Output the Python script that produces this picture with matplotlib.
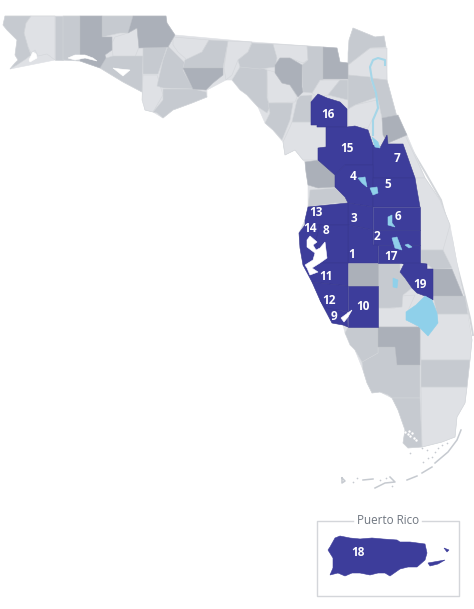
import matplotlib
matplotlib.use('Agg')
import matplotlib.pyplot as plt

# county outlines in image pixels (x, y)
LAND = [(5,16),(166,16),(167,23),(175,35),(252,42),(323,47),(337,48),(340,62),(348,63),(349,40),(353,28),(375,37),(384,36),(386,47),(387,80),(397,117),(407,135),(425,178),(440,200),(450,225),(463,296),(472,340),(470,360),(467,387),(465,403),(457,417),(455,437),(442,442),(422,447),(408,448),(403,443),(405,430),(398,410),(392,398),(380,392),(372,393),(367,383),(363,370),(355,350),(345,333),(343,325),(332,323),(323,307),(310,277),(303,265),(300,248),(299,233),(305,220),(308,207),(308,185),(306,172),(305,162),(303,160),(295,150),(285,155),(283,142),(273,130),(265,123),(258,107),(247,95),(232,80),(226,80),(207,90),(207,97),(192,103),(173,110),(163,118),(153,112),(145,110),(142,92),(123,82),(100,68),(80,61),(55,60),(10,69),(15,63),(18,60),(15,55),(17,40),(7,30),(3,25)]
DARK_COUNTIES = [
    [(133,16),(166,16),(167,23),(175,35),(168,47),(139,48),(137,28),(128,33)],
    [(80,16),(102,16),(102,37),(112,37),(112,50),(105,55),(106,58),(100,68),(80,61)],
    [(183,68),(223,68),(223,75),(213,83),(206,90),(193,89)],
    [(275,65),(280,58),(290,58),(302,65),(302,87),(303,92),(298,97),(290,85),(282,83),(275,73)],
    [(323,47),(337,48),(340,62),(348,63),(348,79),(323,79)],
    [(382,118),(398,115),(407,135),(388,143),(383,135)],
    [(305,162),(320,160),(335,175),(337,183),(335,187),(318,188),(308,185),(306,172)],
    [(433,269),(452,269),(463,296),(433,296)],
    [(378,327),(420,327),(420,365),(397,365),(395,347),(378,347)],
    [(348,263),(378,263),(378,286),(348,286)],
]
MID_COUNTIES = [
    [(5,16),(31,16),(26,23),(24,33),(28,47),(31,55),(26,59),(17,65),(10,69),(15,63),(18,60),(15,55),(17,40),(7,30),(3,25)],
    [(55,16),(63,16),(63,60),(55,60)],
    [(63,16),(80,16),(80,61),(63,60)],
    [(106,58),(113,56),(143,56),(142,92),(123,82),(100,68)],
    [(102,16),(133,16),(128,33),(120,33),(102,37)],
    [(143,48),(167,47),(158,74),(143,74)],
    [(168,46),(185,63),(183,70),(193,89),(163,88),(157,86),(163,60)],
    [(163,89),(193,89),(206,92),(207,97),(192,103),(173,110),(163,118),(157,113),(153,112),(163,100)],
    [(209,40),(228,41),(223,68),(183,68),(185,60),(202,52)],
    [(240,67),(260,67),(267,70),(267,98),(270,107),(267,113),(258,107),(247,95),(240,90),(232,80)],
    [(252,43),(273,44),(277,58),(275,67),(260,69),(240,67),(238,60),(248,52)],
    [(307,46),(323,47),(323,80),(320,80),(312,93),(303,92),(302,65),(308,60)],
    [(340,80),(348,80),(348,100),(328,95)],
    [(348,75),(370,77),(377,97),(355,105),(348,109),(348,100)],
    [(353,28),(375,37),(384,36),(386,47),(370,48),(348,65),(348,53),(349,40)],
    [(370,78),(387,80),(397,117),(382,118),(378,100)],
    [(268,103),(293,103),(290,120),(282,140),(273,130),(265,123),(270,113)],
    [(300,96),(312,95),(311,122),(292,122),(297,100)],
    [(310,190),(335,188),(345,197),(348,203),(335,203),(308,207)],
    [(362,362),(378,353),(378,347),(395,347),(397,365),(420,365),(420,398),(392,398),(388,395),(380,392),(372,393),(367,383),(363,370)],
    [(392,398),(420,398),(422,447),(408,448),(403,443),(405,430),(398,410)],
    [(421,360),(470,360),(467,387),(421,387)],
    [(433,296),(465,296),(468,314),(437,314)],
    [(421,250),(443,250),(452,268),(433,269),(427,264),(421,263)],
    [(378,263),(400,263),(400,272),(405,278),(412,288),(403,295),(402,307),(390,308),(378,308)],
    [(348,327),(378,327),(378,353),(362,362),(355,350),(350,345),(345,333)],
]
LIGHT_COUNTIES = [
    [(31,16),(55,16),(55,60),(47,54),(38,56),(35,50),(31,53),(28,47),(24,33),(26,23)],
    [(112,43),(115,37),(128,33),(137,28),(139,47),(135,57),(113,57)],
    [(143,75),(157,75),(163,95),(153,112),(145,110),(142,100)],
    [(173,37),(209,40),(202,52),(187,60),(178,52),(173,45)],
    [(228,41),(252,42),(248,52),(238,60),(232,75),(226,80),(224,68)],
    [(273,44),(307,46),(308,60),(303,63),(290,58),(280,58),(276,62)],
    [(267,70),(275,72),(282,83),(290,85),(297,97),(295,102),(268,103)],
    [(320,80),(340,80),(328,95),(317,97),(312,93)],
    [(370,48),(387,48),(387,80),(348,75),(348,65)],
    [(348,109),(355,105),(377,100),(378,110),(372,120),(368,128),(355,127),(348,127)],
    [(292,122),(311,122),(317,127),(326,127),(326,147),(318,148),(318,160),(303,160),(295,150),(285,155),(283,142),(290,127)],
    [(388,143),(405,135),(425,178),(415,178),(403,145)],
    [(415,178),(425,178),(440,200),(450,225),(443,250),(421,250),(420,207),(417,190)],
    [(378,308),(395,308),(402,296),(415,295),(407,313),(417,327),(378,327)],
    [(420,327),(437,323),(437,314),(468,314),(472,340),(470,360),(421,360)],
    [(421,387),(467,387),(465,403),(457,417),(455,437),(442,442),(422,447)],
]
BLUE_COUNTIES = [
    [(311,102),(318,94),(327,98),(340,102),(347,109),(347,127),(317,127),(317,125),(311,125)],
    [(318,148),(326,147),(326,127),(347,127),(355,126),(368,130),(373,145),(373,165),(345,165),(335,175),(318,160)],
    [(373,145),(380,148),(387,135),(388,144),(403,144),(415,178),(373,178)],
    [(335,175),(345,165),(373,165),(373,207),(348,203),(345,197),(335,187)],
    [(373,178),(415,178),(417,190),(420,207),(373,207)],
    [(373,207),(420,207),(420,230),(373,230)],
    [(373,230),(420,230),(420,245),(373,245)],
    [(378,245),(420,245),(420,263),(378,263)],
    [(348,203),(373,207),(373,230),(348,225)],
    [(348,225),(373,230),(373,245),(378,245),(378,263),(348,263)],
    [(308,207),(348,203),(348,225),(305,225),(305,220)],
    [(305,225),(320,225),(320,233),(316,268),(303,265),(300,248),(299,233)],
    [(320,225),(348,225),(348,263),(320,263),(316,240)],
    [(303,265),(320,263),(348,263),(348,286),(312,282)],
    [(312,282),(348,286),(348,312),(338,310),(327,312),(320,300)],
    [(320,300),(327,308),(347,312),(348,327),(343,325),(332,323)],
    [(348,286),(378,286),(378,327),(348,327)],
    [(402,263),(420,263),(427,264),(427,269),(433,269),(433,300),(425,296),(417,293),(412,288),(405,278),(400,272),(404,264)],
]
WHITE_WATER = [
    [(29,60),(33,52),(36,54),(37,58),(30,62)],
    [(68,58),(75,55),(85,55),(93,58),(97,61),(85,58),(75,60)],
    [(113,68),(120,69),(130,70),(123,76),(118,72)],
    [(307,240),(310,236),(317,242),(313,245),(316,250),(320,248),(325,242),(327,258),(320,263),(312,268),(318,272),(310,275),(307,268),(305,265),(313,260),(315,253),(307,247)],
    [(352,310),(348,317),(344,322),(341,318),(345,315)],
]
LAKES = [
    [(425,296),(432,300),(437,313),(438,323),(428,336),(418,326),(406,320),(406,312),(416,305)],
    [(392,238),(397,237),(402,250),(395,248)],
    [(405,245),(408,244),(412,247),(409,248)],
    [(388,217),(392,215),(392,223),(395,227),(388,225)],
    [(393,278),(398,280),(397,288),(393,287)],
    [(358,178),(365,177),(367,187),(362,183)],
    [(370,188),(377,187),(378,193),(373,195)],
    [(372,137),(378,142),(380,148),(375,147)],
]
RIVER = [(373,135),(373,120),(378,108),(376,93),(372,80),(370,67),(373,60),(378,58),(385,60),(385,65)]
BARRIER = [(403,135),(425,172),(441,200),(452,240),(456,262),(465,297),(470,318),(473,335)]
KEYS = [
    [(407,480),(417,476)],
    [(422,473),(432,467)],
    [(435,463),(448,452),(457,440),(461,430)],
    [(363,480),(373,479)],
    [(375,488),(385,483),(395,482),(390,477)],
    [(342,478),(345,481),(342,483),(342,478)],
]
KEY_DOTS_X = [353,357,410,422,427,435,442,432,423,428,438,447,380,386,392]
KEY_DOTS_Y = [482,478,453,448,450,452,445,457,462,458,448,443,480,478,486]
MONROE_SPECKS_X = [405,408,410,412,414,416,409]
MONROE_SPECKS_Y = [432,434,436,433,438,440,431]
PUERTO_RICO = [(330,547),(335,538),(340,536),(350,538),(360,539),(372,538),(383,539),(397,540),(400,542),(410,542),(425,544),(427,553),(425,560),(417,567),(408,567),(400,569),(390,576),(385,573),(378,573),(370,575),(360,573),(352,573),(345,576),(338,573),(330,575),(333,568),(333,558),(328,550)]
PR_ISLANDS = [
    [(428,563),(445,560),(438,564),(430,566)],
    [(444,548),(449,550),(447,552)],
]
COUNTY_LABELS = ['16','15','7','4','5','13','3','6','14','8','2','1','17','11','19','12','10','9','18']
LABEL_X = [328,347,397,353,388,316,354,398,310,326,377,352,391,326,420,329,363,334,358]
LABEL_Y = [114,149,158,177,184,213,218,216,228,231,237,254,256,277,284,301,307,317,552]

DARK = '#abb0b9'
MID = '#c6cad0'
LIGHT = '#dfe1e5'
BLUE = '#3d3d9b'
LAKE = '#8fd0ea'


def draw_shapes(ax, shapes, color, edge=None, zorder=1):
    for shape in shapes:
        xs = [p[0] for p in shape]
        ys = [p[1] for p in shape]
        ax.fill(xs, ys, facecolor=color, edgecolor=edge or color, linewidth=0.4, zorder=zorder)


def main():
    fig = plt.figure(figsize=(4.74, 6.09), dpi=100)
    ax = fig.add_axes([0, 0, 1, 1])
    ax.set_xlim(0, 474)
    ax.set_ylim(609, 0)
    ax.axis('off')

    ax.plot([p[0] for p in BARRIER], [p[1] for p in BARRIER], color='#d3d6da', lw=1.4, zorder=1)
    draw_shapes(ax, [LAND], LIGHT)
    draw_shapes(ax, LIGHT_COUNTIES, LIGHT, '#d3d6da')
    draw_shapes(ax, MID_COUNTIES, MID, '#d3d6da')
    draw_shapes(ax, DARK_COUNTIES, DARK, '#b8bcc3')
    draw_shapes(ax, BLUE_COUNTIES, BLUE, '#38388f', zorder=2)
    draw_shapes(ax, WHITE_WATER, 'white', zorder=3)
    ax.plot([p[0] for p in RIVER], [p[1] for p in RIVER], color='#a5d6e8', lw=1.5, zorder=3)
    draw_shapes(ax, LAKES, LAKE, zorder=3)
    for key in KEYS:
        ax.plot([p[0] for p in key], [p[1] for p in key], color='#c6cad0', lw=1.1, zorder=1)
    ax.scatter(KEY_DOTS_X, KEY_DOTS_Y, s=1.5, color='#c6cad0', linewidths=0, zorder=1)
    ax.scatter(MONROE_SPECKS_X, MONROE_SPECKS_Y, s=3, color='white', linewidths=0, zorder=3)

    # inset box, broken by its title
    box = '#d4d6da'
    ax.plot([353, 317, 317, 459, 459, 422], [521, 521, 596, 596, 521, 521], color=box, lw=1.0, zorder=1)
    ax.text(388, 521, 'Puerto Rico', color='#6f7680', fontsize=8.4, family='Open Sans', ha='center', va='center')
    draw_shapes(ax, [PUERTO_RICO], BLUE, zorder=2)
    draw_shapes(ax, PR_ISLANDS, BLUE, zorder=2)

    for label, x, y in zip(COUNTY_LABELS, LABEL_X, LABEL_Y):
        ax.text(x, y, label, color='white', fontsize=8.5, fontweight='bold', family='Open Sans',
                ha='center', va='center', zorder=5)

    fig.savefig('out.png', dpi=100)


if __name__ == '__main__':
    main()
